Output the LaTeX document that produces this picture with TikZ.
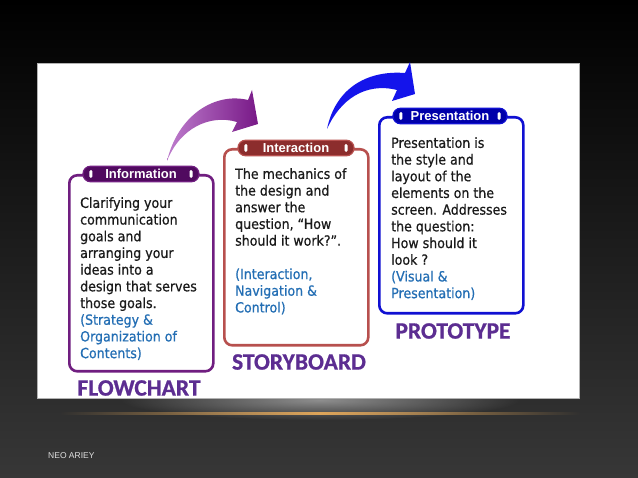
\documentclass[tikz,border=0pt]{standalone}
\usepackage{fontspec}
\setmainfont{DejaVu Sans}[FakeStretch=0.9,FakeBold=0.6]
\newfontfamily\tabfont{Liberation Sans}
\newfontfamily\headfont{Carlito}[FakeBold=0.8]
\usetikzlibrary{fadings}
\definecolor{bgbot}{RGB}{55,55,55}
\definecolor{infoC}{RGB}{112,30,128}
\definecolor{infoT}{RGB}{80,10,95}
\definecolor{interC}{RGB}{183,80,78}
\definecolor{interT}{RGB}{140,45,45}
\definecolor{presC}{RGB}{16,16,210}
\definecolor{presT}{RGB}{0,0,170}
\definecolor{bluetxt}{RGB}{35,110,180}
\definecolor{headC}{RGB}{92,45,145}
\definecolor{arpurL}{RGB}{190,125,205}
\definecolor{arpurR}{RGB}{120,25,135}
\definecolor{arblue}{RGB}{20,20,235}
\definecolor{bodytxt}{RGB}{26,26,26}
\definecolor{goldc}{RGB}{222,165,90}
\tikzfading[name=glowfade, inner color=transparent!0, outer color=transparent!100]
\tikzfading[name=midfade, left color=transparent!100, right color=transparent!100, middle color=transparent!0]
\tikzset{
  boxframe/.style={line width=2.6pt, rounded corners=8pt, fill=white, minimum width=144pt, minimum height=196pt, anchor=north west, inner sep=0pt},
  tabpill/.style={rounded corners=7.5pt, line width=1.2pt, minimum height=15.5pt, minimum width=116pt, inner sep=0pt, text=white, font=\tabfont\bfseries\fontsize{13}{14}\selectfont},
  bodytext/.style={anchor=north west, inner sep=0pt, align=left, text=bodytxt, font=\fontsize{14}{16.7}\selectfont},
  headline/.style={inner sep=0pt, text=headC, font=\headfont\bfseries\fontsize{23.5}{24}\selectfont},
  tabmark/.style={fill=white, rounded corners=1.2pt}
}
\newcommand\tabmarks[1]{%
  \fill[tabmark] ([xshift=7pt,yshift=3.8pt]#1.west) rectangle ++(3,7.6);
  \fill[tabmark] ([xshift=-10pt,yshift=3.8pt]#1.east) rectangle ++(3,7.6);}
\begin{document}
\begin{tikzpicture}[x=1pt,y=-1pt]
\useasboundingbox (0,0) rectangle (638,478);
% background
\shade[top color=black, bottom color=bgbot] (0,0) rectangle (638,478);
\fill[white!30!gray, opacity=0.8, path fading=glowfade] (320,400) ellipse (200 and 20);
\fill[goldc, path fading=midfade] (60,412) rectangle (580,415);
% panel
\draw[gray!60, fill=white, line width=0.8pt] (37,63) rectangle (579,398);
% arrows
\shade[left color=arpurL, right color=arpurR] (167,161) .. controls (178,115) and (215,92) .. (248,100) -- (252,90) -- (258,124) -- (232,132) -- (237,122) .. controls (210,114) and (180,128) .. (167,161) -- cycle;
\fill[arblue] (327,129) .. controls (335,90) and (365,70) .. (405,73) -- (410,62) -- (415,94) -- (392,101) -- (397,90) .. controls (365,82) and (340,100) .. (327,129) -- cycle;
% boxes
\node[boxframe, draw=infoC] (infobox) at (68,174) {};
\node[boxframe, draw=interC] (interbox) at (223,148) {};
\node[boxframe, draw=presC] (presbox) at (378,116) {};
% tabs
\node[tabpill, fill=infoT, draw=infoC] (infotab) at (141,174) {Information};
\node[tabpill, fill=interT, draw=interC] (intertab) at (296,148) {Interaction};
\node[tabpill, fill=presT, draw=presC, minimum width=114pt] (prestab) at (450,116) {Presentation};
\tabmarks{infotab}
\tabmarks{intertab}
\tabmarks{prestab}
% body texts
\node[bodytext] (infotext) at (80,197) {Clarifying your\\communication\\goals and\\arranging your\\ideas into a\\design that serves\\those goals.\\\textcolor{bluetxt}{(Strategy \&}\\\textcolor{bluetxt}{Organization of}\\\textcolor{bluetxt}{Contents)}};
\node[bodytext] (intertext) at (235,168) {The mechanics of\\the design and\\answer the\\question, “How\\should it work?”.\\[16.7pt]\textcolor{bluetxt}{(Interaction,}\\\textcolor{bluetxt}{Navigation \&}\\\textcolor{bluetxt}{Control)}};
\node[bodytext] (prestext) at (391,137) {Presentation is\\the style and\\layout of the\\elements on the\\screen. Addresses\\the question:\\How should it\\look ?\\\textcolor{bluetxt}{(Visual \&}\\\textcolor{bluetxt}{Presentation)}};
% headlines
\node[headline] (flow) at (139,388) {FLOWCHART};
\node[headline] (story) at (299,362) {STORYBOARD};
\node[headline] (proto) at (453,331) {PROTOTYPE};
% footer
\node[inner sep=0pt, anchor=west, text=white!88!black, font=\tabfont\fontsize{8.5}{10}\selectfont] (author) at (48,456) {NEO ARIEY};
\end{tikzpicture}
\end{document}
